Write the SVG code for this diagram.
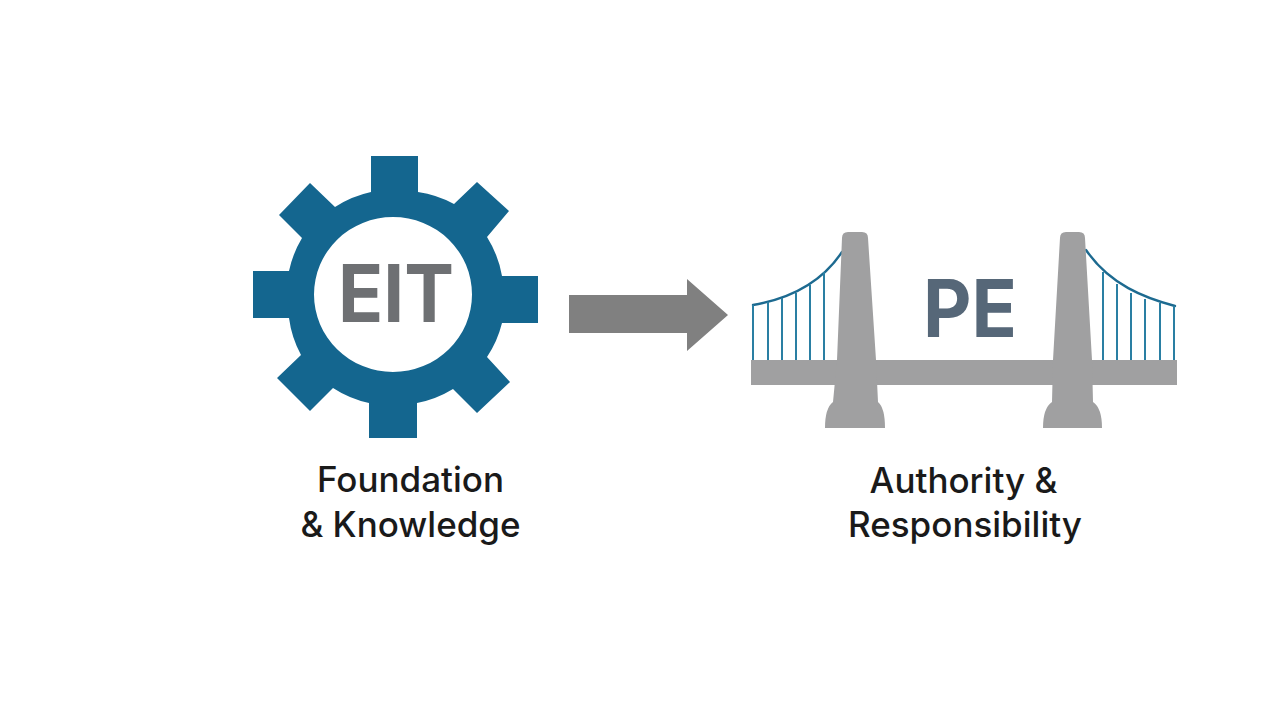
<svg xmlns="http://www.w3.org/2000/svg" width="1280" height="720" viewBox="0 0 1280 720">
  <style>
    .label { font-family: "Inter", "Liberation Sans", sans-serif; font-size: 35px; font-weight: 500; fill: #1a1a1a; text-anchor: middle; }
    .mark { font-family: "Inter", "Liberation Sans", sans-serif; font-size: 80px; font-weight: 700; text-anchor: middle; }
    .tower { fill: #a0a0a1; }
    .cable { fill: none; stroke: #1d6a90; stroke-width: 2.4; stroke-linecap: round; }
    .hanger { stroke: #2a7fa3; stroke-width: 2; fill: none; }
  </style>
  <rect width="1280" height="720" fill="#ffffff"/>
  <g id="node-eit">
    <path fill="#14668f" fill-rule="evenodd" d="M371,156 L418,156 L418,192 A107,107 0 0 1 454,204 L477,182 L509,211 L487,237 A107,107 0 0 1 502,276 L538,276 L538,323 L502,323 A107,107 0 0 1 487,357 L510,382 L477,413 L453,389 A107,107 0 0 1 417,403 L417,438 L369,438 L369,403 A107,107 0 0 1 333,388 L310,411 L277,378 L301,355 A107,107 0 0 1 289,318 L253,318 L253,271 L289,271 A107,107 0 0 1 302,238 L279,215 L310,183 L335,207 A107,107 0 0 1 371,192 Z M314,294.5 A79,77.5 0 1 0 472,294.5 A79,77.5 0 1 0 314,294.5 Z"/>
    <text class="mark" x="396" y="322" fill="#6e7073" textLength="116" lengthAdjust="spacingAndGlyphs">EIT</text>
    <text class="label" x="410.5" y="492">Foundation</text>
    <text class="label" x="410.5" y="537">&amp; Knowledge</text>
  </g>
  <g id="connectors">
    <path id="arrow" fill="#808080" d="M569,295 L687,295 L687,279 L728,315 L687,351 L687,333 L569,333 Z"/>
  </g>
  <g id="node-pe">
    <path class="cable" d="M753,305 C782,300 818,288 842,252"/>
    <path class="cable" d="M1086,250 C1110,285 1145,298 1175,306"/>
    <path class="hanger" d="M753,305V360M768,302V360M782,298V360M796,293V360M810,285V360M824,272V360M1103,272V360M1117,284V360M1131,293V360M1145,299V360M1160,303V360M1174,306V360"/>
    <rect class="tower" x="751" y="360" width="426" height="25"/>
    <path class="tower" d="M842,238 Q842,232 848,232 L862,232 Q868,232 868,238 L876,360 L878,402 Q885,408 885,428 L825,428 Q825,408 833,402 L837,360 Z"/>
    <path class="tower" d="M1060,238 Q1060,232 1066,232 L1079,232 Q1085,232 1085,238 L1092,360 L1093,402 Q1102,408 1102,428 L1043,428 Q1043,408 1052,402 L1053,360 Z"/>
    <text class="mark" x="970" y="337" fill="#566778" font-size="82" textLength="94" lengthAdjust="spacingAndGlyphs">PE</text>
    <text class="label" x="963.5" y="493">Authority &amp;</text>
    <text class="label" x="965" y="537">Responsibility</text>
  </g>
</svg>
